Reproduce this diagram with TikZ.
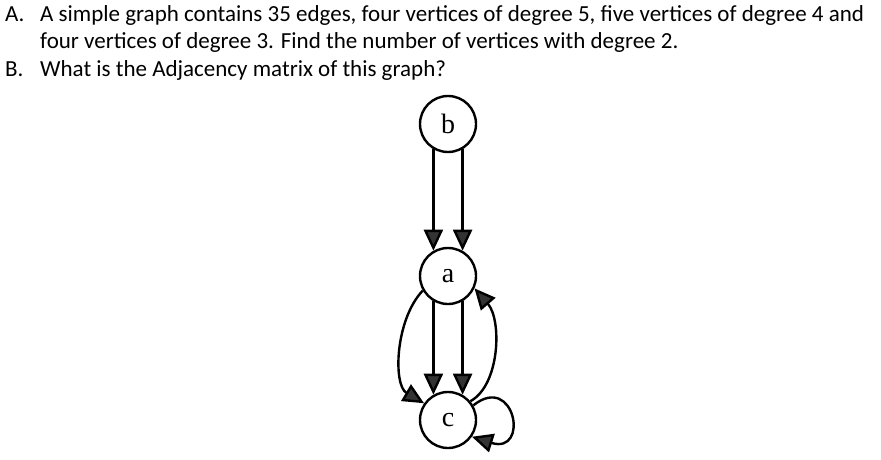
\documentclass[tikz,border=0pt]{standalone}
\usepackage{fontspec}
\setmainfont{Carlito}
\newfontfamily\serifnode{Liberation Serif}
\usetikzlibrary{arrows.meta}
\begin{document}
\begin{tikzpicture}[x=1pt,y=-1pt,
  txt/.style={anchor=base west,inner sep=0pt,font=\fontsize{23}{27}\selectfont},
  vert/.style={circle,draw,line width=2.4pt,minimum size=56pt,inner sep=0pt,font=\serifnode\fontsize{28}{28}\selectfont},
  edge/.style={line width=2.4pt,-{Triangle[length=21pt,width=19pt,fill=black!80]}}]
\useasboundingbox (0,0) rectangle (881,460);
\node[txt] (l1a) at (5,22) {A.};
\node[txt] (l1) at (40,22) {A simple graph contains 35 edges, four vertices of degree 5, five vertices of degree 4 and};
\node[txt] (l2) at (40,49) {four vertices of degree 3. Find the number of vertices with degree 2.};
\node[txt] (l3a) at (5,77) {B.};
\node[txt] (l3) at (40,77) {What is the Adjacency matrix of this graph?};
\node[vert] (b) at (448,124) {b};
\node[vert] (a) at (448,276) {a};
\node[vert] (c) at (448,420) {c};
\draw[edge] (b.-120) -- (a.120);
\draw[edge] (b.-60) -- (a.60);
\draw[edge] (a.-120) -- (c.120);
\draw[edge] (a.-60) -- (c.60);
\draw[edge] (a.-150) .. controls (395,320) and (393,385) .. (c.145);
\draw[edge] (c.40) .. controls (500,385) and (502,320) .. (a.-25);
\draw[edge] (c.30) .. controls (515,372) and (530,455) .. (c.-35);
\end{tikzpicture}
\end{document}
